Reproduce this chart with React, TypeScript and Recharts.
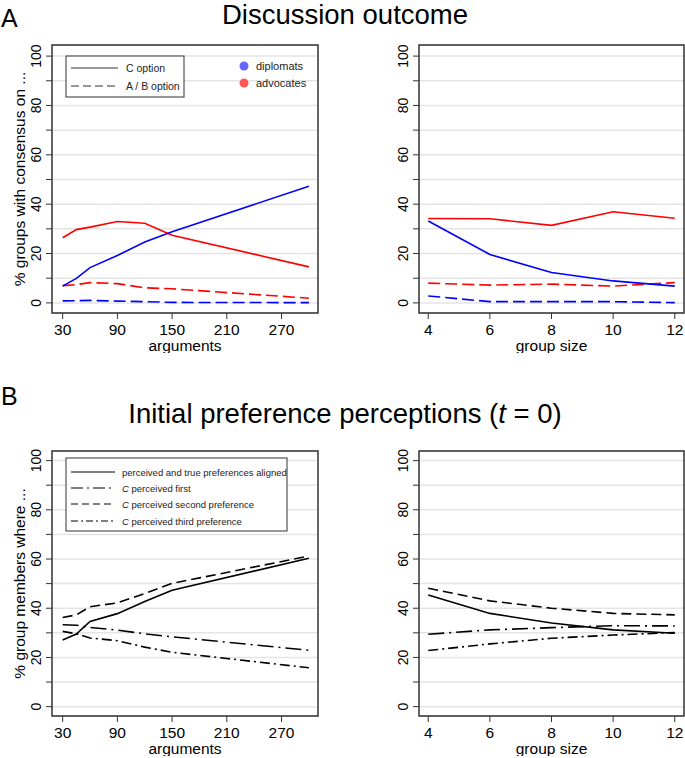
import { LineChart, Line, XAxis, YAxis, CartesianGrid, ReferenceArea } from 'recharts'

const FONT = '"Liberation Sans", Arial, Helvetica, sans-serif'

// x categories
const argX = [30, 45, 60, 90, 120, 150, 300]
const sizeX = [4, 6, 8, 10, 12]
const argTicks = [30, 90, 150, 210, 270]
const sizeTicks = [4, 6, 8, 10, 12]
const pctTicks = [0, 10, 20, 30, 40, 50, 60, 70, 80, 90, 100]

// A: discussion outcome, by arguments
const dipCArg = [6.8, 9.9, 14.3, 19.2, 24.7, 28.8, 47.3]
const advCArg = [26.4, 29.7, 30.7, 33.0, 32.3, 27.4, 14.6]
const advABArg = [7.0, 7.4, 8.2, 7.8, 6.1, 5.7, 1.9]
const dipABArg = [0.8, 0.9, 1.0, 0.7, 0.5, 0.2, 0.1]

// A: discussion outcome, by group size
const dipCSize = [33.2, 19.6, 12.3, 8.9, 6.8]
const advCSize = [34.2, 34.1, 31.4, 36.9, 34.3]
const advABSize = [8.0, 7.2, 7.6, 6.8, 8.2]
const dipABSize = [2.8, 0.5, 0.5, 0.5, 0.1]

// B: initial preference perceptions, by arguments
const alignedArg = [27.1, 29.5, 34.6, 37.8, 42.7, 47.3, 60.3]
const firstArg = [33.3, 33.1, 32.2, 31.1, 29.6, 28.4, 22.9]
const secondArg = [36.2, 37.3, 40.6, 42.2, 46.0, 50.1, 61.2]
const thirdArg = [30.6, 29.6, 27.9, 26.8, 24.2, 22.1, 15.8]

// B: initial preference perceptions, by group size
const alignedSize = [45.4, 37.9, 34.0, 31.2, 29.8]
const firstSize = [29.4, 31.2, 32.1, 32.9, 32.8]
const secondSize = [48.1, 43.0, 40.0, 37.9, 37.3]
const thirdSize = [22.8, 25.5, 27.8, 29.1, 30.1]

interface Series {
  key: string
  values: number[]
  color: string
  dash?: string
}

const DASH_A = '12 5'
const DASH_FIRST = '16 5 2 5'
const DASH_SECOND = '10 5'
const DASH_THIRD = '10 4 2 4'

function table(xs: number[], series: Series[]) {
  return xs.map((x, i) => {
    const row: Record<string, number> = { x }
    series.forEach(s => { row[s.key] = s.values[i] })
    return row
  })
}

function YTick(props: any) {
  const { x, y, payload } = props
  if (payload.value % 20 !== 0) return <g />
  return (
    <text
      transform={`translate(${x + 1},${y}) rotate(-90)`}
      textAnchor="middle"
      fontSize={14}
      fill="#000"
      fontFamily={FONT}
    >
      {payload.value}
    </text>
  )
}

function YTitle(props: any) {
  const { viewBox, value } = props
  const cx = viewBox.x + 19
  const cy = viewBox.y + viewBox.height / 2
  return (
    <text
      x={cx}
      y={cy}
      transform={`rotate(-90 ${cx} ${cy})`}
      textAnchor="middle"
      dominantBaseline="central"
      fontSize={15.5}
      fill="#000"
      fontFamily={FONT}
    >
      {value}
    </text>
  )
}

interface PanelProps {
  left: number
  top: number
  width: number
  height: number
  marginRight: number
  xs: number[]
  xDomain: [number, number]
  xTicks: number[]
  xLabel: string
  yDomain: [number, number]
  yLabel?: string
  series: Series[]
}

function Panel({ left, top, width, height, marginRight, xs, xDomain, xTicks, xLabel, yDomain, yLabel, series }: PanelProps) {
  const data = table(xs, series)
  return (
    <div style={{ position: 'absolute', left, top }}>
      <LineChart width={width} height={height} data={data} margin={{ top: 15, right: marginRight, bottom: 0, left: 0 }}>
        <CartesianGrid vertical={false} stroke="#e4e4e4" strokeWidth={1.5} />
        <XAxis
          dataKey="x"
          type="number"
          domain={xDomain}
          ticks={xTicks}
          interval={0}
          allowDataOverflow
          axisLine={false}
          tickLine={{ stroke: '#333' }}
          tickSize={6}
          tickMargin={5}
          height={40}
          tick={{ fontSize: 15.5, fill: '#000', fontFamily: FONT }}
          label={{ value: xLabel, position: 'insideBottom', offset: 2, fontSize: 15.5, fill: '#000', fontFamily: FONT }}
        />
        <YAxis
          type="number"
          domain={yDomain}
          ticks={pctTicks}
          interval={0}
          allowDataOverflow
          axisLine={false}
          tickLine={{ stroke: '#333' }}
          width={52}
          tickSize={6}
          tickMargin={6}
          tick={YTick}
          label={yLabel ? <YTitle value={yLabel} /> : undefined}
        />
        {series.map(s => (
          <Line
            key={s.key}
            dataKey={s.key}
            type="linear"
            stroke={s.color}
            strokeWidth={1.6}
            strokeDasharray={s.dash}
            dot={false}
            isAnimationActive={false}
          />
        ))}
        <ReferenceArea
          x1={xDomain[0]}
          x2={xDomain[1]}
          y1={yDomain[0]}
          y2={yDomain[1]}
          fill="none"
          fillOpacity={0}
          stroke="#333"
          strokeWidth={1.5}
        />
      </LineChart>
    </div>
  )
}

const BLUE = '#0000ff'
const RED = '#ff0000'
const BLACK = '#000'

const argDomain: [number, number] = [18.3, 310]
const sizeDomain: [number, number] = [3.7, 12.3]
const yDomainA: [number, number] = [-4.1, 104.5]
const yDomainB: [number, number] = [-3.8, 103.9]

export default function App() {
  return (
    <div style={{ position: 'relative', width: 685, height: 758, fontFamily: FONT, background: '#fff' }}>
      <style>{'body{margin:0}'}</style>

      <Panel
        left={0} top={30} width={320} height={323} marginRight={2}
        xs={argX} xDomain={argDomain} xTicks={argTicks} xLabel="arguments"
        yDomain={yDomainA} yLabel="% groups with consensus on ..."
        series={[
          { key: 'advAB', values: advABArg, color: RED, dash: DASH_A },
          { key: 'dipAB', values: dipABArg, color: BLUE, dash: DASH_A },
          { key: 'advC', values: advCArg, color: RED },
          { key: 'dipC', values: dipCArg, color: BLUE },
        ]}
      />
      <Panel
        left={367} top={30} width={318} height={323} marginRight={1}
        xs={sizeX} xDomain={sizeDomain} xTicks={sizeTicks} xLabel="group size"
        yDomain={yDomainA}
        series={[
          { key: 'advAB', values: advABSize, color: RED, dash: DASH_A },
          { key: 'dipAB', values: dipABSize, color: BLUE, dash: DASH_A },
          { key: 'advC', values: advCSize, color: RED },
          { key: 'dipC', values: dipCSize, color: BLUE },
        ]}
      />
      <Panel
        left={0} top={436} width={320} height={320} marginRight={2}
        xs={argX} xDomain={argDomain} xTicks={argTicks} xLabel="arguments"
        yDomain={yDomainB} yLabel="% group members where ..."
        series={[
          { key: 'first', values: firstArg, color: BLACK, dash: DASH_FIRST },
          { key: 'third', values: thirdArg, color: BLACK, dash: DASH_THIRD },
          { key: 'second', values: secondArg, color: BLACK, dash: DASH_SECOND },
          { key: 'aligned', values: alignedArg, color: BLACK },
        ]}
      />
      <Panel
        left={367} top={436} width={318} height={320} marginRight={1}
        xs={sizeX} xDomain={sizeDomain} xTicks={sizeTicks} xLabel="group size"
        yDomain={yDomainB}
        series={[
          { key: 'first', values: firstSize, color: BLACK, dash: DASH_FIRST },
          { key: 'third', values: thirdSize, color: BLACK, dash: DASH_THIRD },
          { key: 'second', values: secondSize, color: BLACK, dash: DASH_SECOND },
          { key: 'aligned', values: alignedSize, color: BLACK },
        ]}
      />

      {/* titles, panel letters and legends */}
      <svg width={685} height={758} style={{ position: 'absolute', left: 0, top: 0, pointerEvents: 'none' }} fontFamily={FONT}>
        <text x={1} y={27} fontSize={25} fill="#000">A</text>
        <text x={345} y={24} fontSize={27.5} textAnchor="middle" fill="#000">Discussion outcome</text>
        <text x={1} y={405} fontSize={25} fill="#000">B</text>
        <text x={345} y={423} fontSize={27.5} textAnchor="middle" fill="#000">
          Initial preference perceptions (<tspan fontStyle="italic">t</tspan> = 0)
        </text>

        <rect x={66} y={56} width={118} height={41} fill="#fff" stroke="#333" strokeWidth={1} />
        <line x1={71} x2={118} y1={68} y2={68} stroke="#333" strokeWidth={1.2} />
        <text x={126} y={71.5} fontSize={10.5} fill="#222">C option</text>
        <line x1={71} x2={118} y1={86} y2={86} stroke="#333" strokeWidth={1.2} strokeDasharray="8 4" />
        <text x={126} y={89.5} fontSize={10.5} fill="#222">A / B option</text>

        <circle cx={244} cy={66} r={4.5} fill="#6666ff" />
        <text x={256} y={70} fontSize={11} fill="#222">diplomats</text>
        <circle cx={244} cy={83} r={4.5} fill="#ff5555" />
        <text x={256} y={87} fontSize={11} fill="#222">advocates</text>

        <rect x={66} y={458} width={221} height={73} fill="#fff" stroke="#333" strokeWidth={1} />
        <line x1={71} x2={115} y1={472} y2={472} stroke="#000" strokeWidth={1.2} />
        <text x={122} y={475.5} fontSize={9.5} fill="#222">perceived and true preferences aligned</text>
        <line x1={71} x2={115} y1={488} y2={488} stroke="#000" strokeWidth={1.2} strokeDasharray="12 4 2 4" />
        <text x={122} y={491.5} fontSize={9.5} fill="#222"><tspan fontStyle="italic">C</tspan> perceived first</text>
        <line x1={71} x2={115} y1={504} y2={504} stroke="#000" strokeWidth={1.2} strokeDasharray="7 4" />
        <text x={122} y={507.5} fontSize={9.5} fill="#222"><tspan fontStyle="italic">C</tspan> perceived second preference</text>
        <line x1={71} x2={115} y1={521} y2={521} stroke="#000" strokeWidth={1.2} strokeDasharray="7 3 2 3" />
        <text x={122} y={524.5} fontSize={9.5} fill="#222"><tspan fontStyle="italic">C</tspan> perceived third preference</text>
      </svg>
    </div>
  )
}
